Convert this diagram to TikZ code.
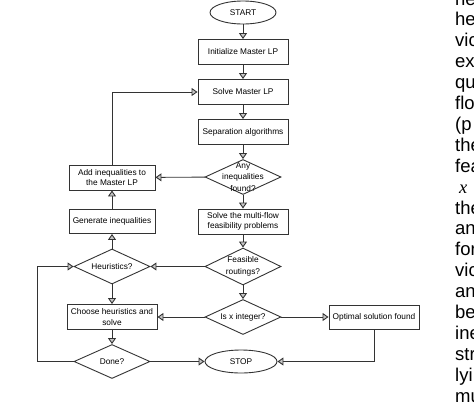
\documentclass[tikz,border=0pt]{standalone}
\usepackage{fontspec}
\setmainfont{Liberation Sans}
\newfontfamily\mathserif{Liberation Serif}
\usetikzlibrary{shapes.geometric,arrows.meta}
\begin{document}
\begin{tikzpicture}
[x=1pt,y=-1pt,
  boxdecorate/.style={shape=rectangle,draw=black!80,line width=0.9pt,minimum width=90pt,minimum height=25pt,inner sep=1pt,align=center,font=\fontsize{8.3}{10.5}\selectfont},
  terminaldecorate/.style={shape=ellipse,draw=black!80,line width=0.9pt,minimum width=66pt,minimum height=23pt,inner sep=0pt,font=\fontsize{8.3}{10}\selectfont},
  decisiondecorate/.style={shape=diamond,draw=black!80,line width=0.9pt,minimum width=76pt,minimum height=35pt,inner sep=0pt},
  decisiontext/.style={align=center,inner sep=0pt,font=\fontsize{8.3}{11.5}\selectfont},
  arrowdecorate/.style={-{Triangle[width=8pt,length=6pt,fill=gray!45]},draw=black!80,line width=0.9pt},
  pagetext/.style={anchor=base west,inner sep=0pt,font=\fontsize{18.5}{20}\selectfont}]
\useasboundingbox (0,0) rectangle (474,402);
% nodes of the main column
\node (start) at (243,12.5) [terminaldecorate] {START};
\node (init) at (243,52) [boxdecorate] {Initialize Master LP};
\node (solve) at (243,92) [boxdecorate] {Solve Master LP};
\node (sep) at (243,132) [boxdecorate] {Separation algorithms};
\node (anyfound) at (243,177) [decisiondecorate,label={[name=anyfoundtext,decisiontext]center:Any\\inequalities\\found?}] {};
\node (multiflow) at (243,221.5) [boxdecorate] {Solve the multi-flow\\feasibility problems};
\node (feasible) at (243,266.5) [decisiondecorate,minimum height=37pt,label={[name=feasibletext,decisiontext]center:Feasible\\routings?}] {};
\node (isint) at (243,317) [decisiondecorate,label={[name=isinttext,decisiontext]center:Is x integer?}] {};
\node (stop) at (241,361.5) [terminaldecorate,minimum width=72pt] {STOP};
% nodes of the left column
\node (addineq) at (112,177.5) [boxdecorate,minimum width=86pt] {Add inequalities to\\the Master LP};
\node (geneq) at (112,221.5) [boxdecorate,minimum width=86pt,minimum height=24pt] {Generate inequalities};
\node (heur) at (112,266.5) [decisiondecorate,label={[name=heurtext,decisiontext]center:Heuristics?}] {};
\node (choose) at (112,317) [boxdecorate] {Choose heuristics and\\solve};
\node (done) at (112,361.5) [decisiondecorate,minimum height=34pt,label={[name=donetext,decisiontext]center:Done?}] {};
% node on the right
\node (opt) at (374,317) [boxdecorate,minimum height=24pt] {Optimal solution found};
\coordinate (loopcorner) at (37,361.5);
% edges or lines
\path
(start) edge[arrowdecorate] (init)
(init) edge[arrowdecorate] (solve)
(solve) edge[arrowdecorate] (sep)
(sep) edge[arrowdecorate] (anyfound)
(anyfound) edge[arrowdecorate] (multiflow)
(multiflow) edge[arrowdecorate] (feasible)
(feasible) edge[arrowdecorate] (isint)
(anyfound) edge[arrowdecorate] (addineq)
(geneq) edge[arrowdecorate] (addineq)
(heur) edge[arrowdecorate] (geneq)
(feasible) edge[arrowdecorate] (heur)
(heur) edge[arrowdecorate] (choose)
(isint) edge[arrowdecorate] (choose)
(isint) edge[arrowdecorate] (opt)
(choose) edge[arrowdecorate] (done)
(done) edge[arrowdecorate] (stop);
\draw[arrowdecorate] (addineq.north) |- (solve.west);
\draw[arrowdecorate] (opt.south) |- (stop.east);
\draw[arrowdecorate] (done.west) -- (loopcorner) |- (heur.west);
% text of the page beside the figure
\begin{scope}
\clip (440,0) rectangle (474,402);
\foreach \word [count=\i from 0] in {ne,he,vic,ex,qu,flo,{(p},the,fea,{\hspace*{4pt}\mathserif\itshape x},the,an,for,vic,an,be,ine,str,lyi,mu}
  \node (pageline\i) at (455,{5+20.9*\i}) [pagetext] {\word};
\end{scope}
\end{tikzpicture}
\end{document}
